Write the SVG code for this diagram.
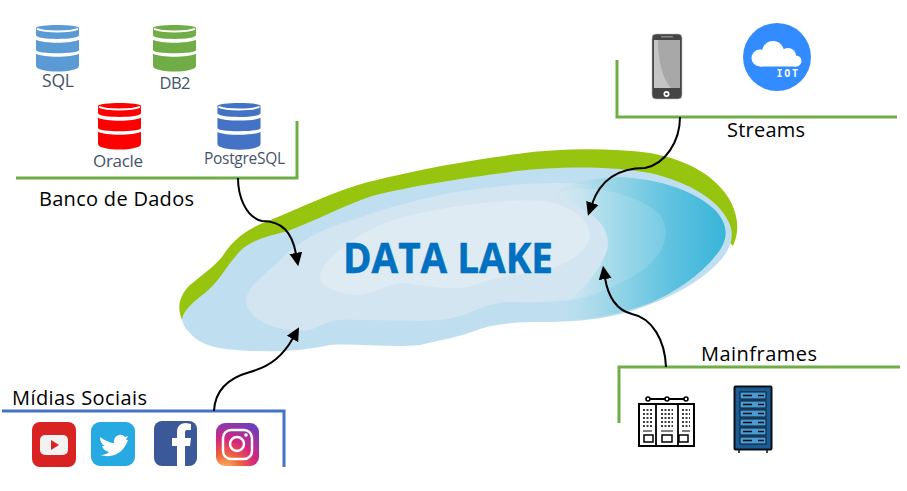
<svg xmlns="http://www.w3.org/2000/svg" width="907" height="491" viewBox="0 0 907 491">
<style>
.lbl{font-family:"Open Sans","Noto Sans","Liberation Sans",sans-serif;fill:#000}
.db{font-family:"Open Sans","Noto Sans","Liberation Sans",sans-serif;fill:#44546a}
.frame{fill:none;stroke:#70ad47;stroke-width:3}
.conn{fill:none;stroke:#000;stroke-width:2;marker-end:url(#head)}
</style>
<defs>
<marker id="head" markerUnits="userSpaceOnUse" markerWidth="14" markerHeight="14" refX="1" refY="6" orient="auto" viewBox="0 0 13 12"><path d="M0 0L12.5 6L0 12Z" fill="#000"/></marker>
<linearGradient id="cy" gradientUnits="userSpaceOnUse" x1="555" y1="0" x2="728" y2="0"><stop offset="0" stop-color="#b9deee" stop-opacity="0"/><stop offset=".3" stop-color="#9dd7e8"/><stop offset=".65" stop-color="#62c3e0"/><stop offset="1" stop-color="#36b4d8"/></linearGradient>
<radialGradient id="ig" gradientUnits="userSpaceOnUse" cx="225" cy="470" r="52"><stop offset="0" stop-color="#fdc468"/><stop offset=".3" stop-color="#f0653c"/><stop offset=".6" stop-color="#d4267e"/><stop offset="1" stop-color="#6a3fc0"/></radialGradient>
<symbol id="cyl" viewBox="0 0 44 49" overflow="visible">
<path d="M0 4C0 0 44 0 44 4V11.500C44 16.500 0 16.500 0 11.500Z"/><path d="M0 16C8 20 36 20 44 16V26.500C44 31 0 31 0 26.500Z"/><path d="M0 30.500C8 34.500 36 34.500 44 30.500V43C44 50.500 0 50.500 0 43Z"/>
<path d="M1 5C10 8.500 34 8.500 43 5" fill="none" stroke="#fff" stroke-width="2"/>
</symbol>
</defs>
<rect width="907" height="491" fill="#fff"/>
<g id="lake">
<path d="M182 320C177 308 179 298 187 288C197 278 212 269 222 257C232 241 244 230 268 221C300 208 335 191 368 182C405 173 450 163 517 154C560 148 610 148 650 153C690 160 718 178 731 202C739 219 739 232 733 246L700 210L300 245Z" fill="#97c50f"/>
<path d="M182 319C184 310 192 303 205 293C220 281 228 263 242 249C254 239 272 235 288 231C315 221 340 207 372 196C410 186 470 177 517 171C560 166 610 166 650 173C690 182 722 202 730 225C735 238 729 252 718 263C700 282 670 298 640 308C610 320 570 322 540 322C515 322 495 324 480 329C460 337 440 340 420 345C390 348 355 343 330 345C305 350 285 352 262 351C235 351 208 349 195 338C187 331 183 326 182 319Z" fill="#bfdff0"/>
<path d="M246 300C248 285 265 275 280 260C295 245 315 232 340 224C385 208 430 195 470 190C510 184 560 180 600 186C640 195 668 215 667 238C664 262 640 278 610 291C580 302 540 303 505 302C480 305 465 318 440 320C410 322 370 319 337 320C320 324 312 332 300 331C270 330 247 318 246 300Z" fill="#d2e5f0"/>
<path d="M556 192C565 184 590 178 620 177C660 179 696 191 716 211C727 224 729 236 720 250C703 274 676 292 648 304C620 314 590 320 565 320L540 322L548 240Z" fill="url(#cy)"/>
<path d="M560 192C590 182 640 195 660 215C672 232 665 255 640 272C620 285 595 296 565 301Z" fill="#fff" fill-opacity=".13"/>
<path d="M540 195C556 196 575 203 590 214C602 222 608 232 608 244C607 262 588 283 573 298L500 302L500 200Z" fill="#d2e5f0"/>
<path d="M320 275C322 264 340 248 357 237C375 226 395 218 420 213C460 205 510 198 545 201C570 205 590 220 590 236C588 250 570 263 548 270C525 276 500 274 475 285C455 292 425 286 403 283C385 284 372 295 355 295C335 293 319 286 320 275Z" fill="#deebf3"/>
<text x="343" y="273" font-family="Open Sans,Noto Sans,Liberation Sans,sans-serif" font-weight="700" font-size="41" fill="#0070c0" stroke="#0070c0" stroke-width=".5" textLength="210" lengthAdjust="spacingAndGlyphs">DATA LAKE</text>
</g>
<g id="banco-de-dados">
<path class="frame" d="M16 178H297V121"/>
<text class="lbl" x="39" y="206" font-size="20" textLength="155">Banco de Dados</text>
<g id="sql"><use href="#cyl" x="36" y="24" width="43" height="48" fill="#5b9bd5"/><text class="db" x="42" y="87" font-size="17.500" textLength="32">SQL</text></g>
<g id="db2"><use href="#cyl" x="153" y="24" width="43" height="48" fill="#70ad47"/><text class="db" x="159.500" y="89" font-size="16.500" textLength="31">DB2</text></g>
<g id="oracle"><use href="#cyl" x="98" y="102" width="43" height="48" fill="#f00"/><text class="db" x="93" y="167" font-size="17" textLength="50">Oracle</text></g>
<g id="postgresql"><use href="#cyl" x="217" y="102" width="44" height="48" fill="#4472c4"/><text class="db" x="204" y="164" font-size="15.500" textLength="81">PostgreSQL</text></g>
</g>
<g id="streams">
<path class="frame" d="M617 60V117H897"/>
<text class="lbl" x="727" y="137" font-size="20" textLength="78">Streams</text>
<g id="phone">
<rect x="652" y="34" width="30" height="65" rx="4" fill="#444" stroke="#bbb" stroke-width=".6"/>
<rect x="654" y="40" width="26" height="48" fill="#a8a8a8"/>
<path d="M654 40H658C658 60 662 78 671 88H654Z" fill="#c4c4c4"/>
<rect x="661" y="36" width="12" height="1.500" fill="#888"/>
<circle cx="666.500" cy="94" r="3" fill="#fff"/><circle cx="666.500" cy="94" r="1.300" fill="#444"/>
</g>
<g id="iot">
<circle cx="777" cy="57" r="34" fill="#338cff"/>
<g fill="#fff"><circle cx="760" cy="58" r="8.500"/><circle cx="773" cy="52" r="11"/><circle cx="788" cy="56" r="8"/><circle cx="796" cy="61" r="5.500"/><rect x="760" y="57" width="36" height="9.500"/></g>
<text x="776.500" y="76.500" font-family="DejaVu Sans Mono,monospace" font-weight="700" font-size="10" fill="#fff" textLength="21.500">IOT</text>
</g>
</g>
<g id="mainframes">
<path class="frame" d="M619 423V367H900"/>
<text class="lbl" x="701" y="361" font-size="20" textLength="116">Mainframes</text>
<g id="server" fill="none" stroke="#000">
<path d="M648 399H686" stroke-width="1.800"/>
<g fill="#fff" stroke-width="1.600"><circle cx="648" cy="399" r="2"/><circle cx="667" cy="399" r="2"/><circle cx="686" cy="399" r="2"/></g>
<rect x="639" y="404" width="55" height="42" fill="#fff" stroke-width="2"/>
<path d="M656 404V446M678 404V446" stroke-width="1.800"/>
<path d="M643 410H652M643 414H652M643 418H652M643 422H652M643 426H652M661 410H673M661 414H673M661 418H673M661 422H673M661 426H673M682 410H690M682 414H690M682 418H690M682 422H690M682 426H690" stroke-width="1.400" stroke-dasharray="2 1.500"/>
<path d="M643 431H652M661 431H673M682 431H690" stroke-width="1.200"/>
<rect x="644" y="435" width="9" height="7" stroke-width="1.500"/><rect x="662" y="435" width="10" height="7" stroke-width="1.500"/><rect x="679" y="435" width="9" height="7" stroke-width="1.500"/>
</g>
<g id="rack">
<rect x="734.500" y="386.500" width="37" height="63" rx="1" fill="#1a5d96" stroke="#0a0f14" stroke-width="2"/>
<path d="M739 450V453M767 450V453" stroke="#111" stroke-width="1.500"/>
<g fill="#4a9bd4" stroke="#0a0f14" stroke-width=".9"><rect x="740" y="392" width="26" height="7"/><rect x="740" y="401" width="26" height="7"/><rect x="740" y="410" width="26" height="7"/><rect x="740" y="419" width="26" height="7"/><rect x="740" y="428" width="26" height="7"/><rect x="740" y="437" width="26" height="7"/></g>
<path d="M743 395.500H752M743 404.500H752M743 413.500H752M743 422.500H752M743 431.500H752M743 440.500H752M758 395.500H764M758 404.500H764M758 413.500H764M758 422.500H764M758 431.500H764M758 440.500H764" stroke="#0a0f14" stroke-width="1.500"/>
</g>
</g>
<g id="midias-sociais">
<path d="M2 411H284V467" fill="none" stroke="#4472c4" stroke-width="3"/>
<text class="lbl" x="12" y="405" font-size="20" textLength="135">Mídias Sociais</text>
<g id="youtube"><rect x="32" y="422" width="44" height="45" rx="8" fill="#d92323"/><rect x="40" y="435" width="28" height="20" rx="5" fill="#f2f2f2"/><path d="M51 440L59 445L51 450Z" fill="#d92323"/></g>
<g id="twitter"><rect x="91" y="422" width="44" height="44" rx="9" fill="#27a9e1"/><path d="M100 437C106 441 111 443 114 443C113 436 121 432 125 437L128 436L126 440L128 440C124 452 114 459 100 455C105 455 108 453 109 452C105 451 103 449 102 446L105 446C102 445 100 441 100 437Z" fill="#fff"/></g>
<g id="facebook"><rect x="154" y="421" width="43" height="45" rx="8" fill="#3b5998"/><path d="M177 466V446H172V438H177V432C177 426 181 423 186 423L191 424V430H187C185 430 185 432 185 433V438H191L190 446H185V466Z" fill="#fff"/></g>
<g id="instagram"><rect x="216" y="423" width="43" height="43" rx="9" fill="url(#ig)"/><rect x="223" y="430" width="29" height="29" rx="8" fill="none" stroke="#fff" stroke-width="2.500"/><circle cx="237" cy="444" r="7" fill="none" stroke="#fff" stroke-width="2.500"/><circle cx="246" cy="435" r="1.800" fill="#fff"/></g>
</g>
<g id="connectors">
<path class="conn" d="M238 178C238 195 245 217 262 221C282 221 292 232 296 254"/>
<path class="conn" d="M214 411C215 388 232 377 250 372C272 366 284 354 293 338"/>
<path class="conn" d="M680 117C680 142 665 164 645 168C620 168 601 178 592 204"/>
<path class="conn" d="M666 367C665 340 652 318 632 314C616 310 608 296 605 278"/>
</g>
</svg>
